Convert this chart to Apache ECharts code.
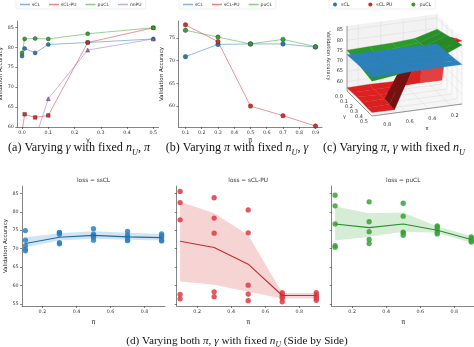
<!DOCTYPE html>
<html><head><meta charset="utf-8">
<script src="https://cdn.jsdelivr.net/npm/echarts@6/dist/echarts.min.js"></script>
<style>html,body{margin:0;padding:0;background:#fff}#c{width:474px;height:347px}</style>
</head><body><div id="c"></div>
<script>
// ---------------- data ----------------
// (a) varying gamma
const GAMMA_A = [0.0, 0.01, 0.05, 0.1, 0.25, 0.5];
const A_SCL   = [77.8, 79.7, 78.6, 80.7, 81.2, 82.1];
const A_SCLPU = [58.8, 63.2, 62.4, 62.9, 81.2, 84.9];
const A_PUCL  = [78.6, 82.1, 82.2, 82.1, 83.4, 84.9];
const A_NNPU  = [55.0, 56.0, 57.0, 67.1, 79.3, 82.1];
const A_XTICKS = [0.0, 0.1, 0.2, 0.3, 0.4, 0.5];
const A_YTICKS = [60, 65, 70, 75, 80, 85];
// (b) varying pi
const PI_B = [0.1, 0.3, 0.5, 0.7, 0.9];
const B_SCL   = [70.9, 73.6, 73.7, 73.7, 73.0];
const B_SCLPU = [77.9, 74.2, 60.0, 57.9, 55.6];
const B_PUCL  = [76.7, 75.2, 73.7, 74.7, 73.1];
const B_XTICKS = [0.1, 0.2, 0.3, 0.4, 0.5, 0.6, 0.7, 0.8, 0.9];
const B_YTICKS = [60, 65, 70, 75];
// (c) surfaces: rows = pi, cols = gamma
const PI3 = [0.1, 0.3, 0.5, 0.7, 0.9];
const GAMMA3 = [0.0, 0.1, 0.2, 0.3, 0.4, 0.5];
const Z3_SCL = [
  [72.5, 72.8, 73.2, 73.6, 74.0, 74.6],
  [72.6, 72.9, 73.3, 73.7, 74.1, 74.5],
  [72.7, 73.0, 73.4, 73.7, 74.0, 74.4],
  [72.8, 73.1, 73.4, 73.8, 74.1, 74.3],
  [73.0, 73.2, 73.5, 73.8, 74.0, 74.2]
];
const Z3_SCLPU = [
  [57.0, 57.3, 78.5, 82.8, 84.6, 86.0],
  [57.1, 57.4, 76.0, 79.5, 81.5, 83.8],
  [57.0, 57.2, 57.5, 76.5, 78.5, 80.5],
  [57.2, 57.1, 57.0, 57.3, 57.2, 57.0],
  [57.0, 57.1, 57.3, 57.2, 57.0, 57.1]
];
const Z3_PUCL = [
  [79.5, 80.5, 81.5, 82.5, 83.2, 84.0],
  [76.5, 77.0, 77.6, 78.2, 78.8, 79.4],
  [75.8, 75.8, 75.7, 75.6, 75.5, 75.4],
  [75.5, 75.2, 74.8, 74.4, 74.0, 73.6],
  [75.2, 74.7, 74.1, 73.5, 72.9, 72.3]
];
const Z3_TICKS = [60, 65, 70, 75, 80, 85];
const G3_TICKS = [0.0, 0.1, 0.2, 0.3, 0.4, 0.5];
const P3_TICKS = [0.2, 0.4, 0.6, 0.8];
// (d) side by side
const PI_D = [0.1, 0.3, 0.5, 0.7, 0.9];
const D_SCL_PTS = [[74.9,72.3,70.8,69.9,69.4],[74.4,74.3,73.9,71.6,71.3],[75.4,73.9,73.5,73.1,72.3],[74.7,73.7,73.1,72.3,72.2],[74.0,73.5,73.1,72.3,72.1]];
const D_SCL_MEAN = [71.4, 73.1, 73.6, 73.2, 73.0];
const D_SCL_LO = [70.4, 72.2, 72.7, 72.4, 72.2];
const D_SCL_HI = [73.1, 74.2, 74.7, 74.3, 74.0];
const D_SCLPU_PTS = [[85.5,82.5,77.8,57.6,56.4],[83.8,78.3,74.2,58.3,57.0],[80.5,74.3,60.1,57.7,55.9],[58.1,57.5,57.0,56.5,55.6],[58.1,57.5,57.0,56.5,56.0]];
const D_SCLPU_MEAN = [72.0, 70.3, 65.8, 57.3, 57.3];
const D_SCLPU_LO = [61.1, 60.2, 58.3, 56.5, 56.5];
const D_SCLPU_HI = [82.7, 79.6, 73.7, 58.0, 58.0];
const D_PUCL_PTS = [[84.5,81.6,76.7,70.8,70.4],[82.7,77.3,74.6,72.5,71.4],[82.3,78.8,74.5,74.3,73.6],[76.2,75.9,75.2,74.4,74.0],[73.2,72.8,72.4,72.1,71.8]];
const D_PUCL_MEAN = [76.7, 75.7, 76.7, 75.0, 72.5];
const D_PUCL_LO = [72.2, 73.2, 74.6, 74.3, 71.6];
const D_PUCL_HI = [81.4, 79.6, 79.8, 76.0, 73.4];
const D_XTICKS = [0.2, 0.4, 0.6, 0.8];
const D_YTICKS = [55, 60, 65, 70, 75, 80, 85];
const D_TITLES = ['loss = ssCL', 'loss = sCL-PU', 'loss = puCL'];

// ---------------- styling ----------------
const FONT = 'DejaVu Sans';
const AXC = '#333';
const C_BLUE = '#1f77b4', C_RED = '#d62728', C_GREEN = '#2ca02c', C_PURPLE = '#9467bd';

function xAxisDef(gi, min, max, ticks, name, gap, showLabels) {
  return {
    type: 'value', gridIndex: gi, min, max,
    name: name || '', nameLocation: 'middle', nameGap: gap || 9,
    nameTextStyle: {fontSize: 6.5, color: '#222', fontFamily: FONT},
    axisLine: {show: true, onZero: false, lineStyle: {color: AXC, width: 0.6}},
    axisTick: {show: true, length: 2, customValues: ticks, lineStyle: {color: AXC, width: 0.6}},
    axisLabel: {show: showLabels !== false, customValues: ticks, fontSize: 4.8, color: '#333', margin: 3.5, fontFamily: FONT, formatter: v => v.toFixed(1)},
    splitLine: {show: false}
  };
}
function yAxisDef(gi, min, max, ticks, name, gap, showLabels) {
  return {
    type: 'value', gridIndex: gi, min, max,
    name: name || '', nameLocation: 'middle', nameGap: gap || 10,
    nameTextStyle: {fontSize: 5.5, color: '#222', fontFamily: FONT},
    axisLine: {show: true, onZero: false, lineStyle: {color: AXC, width: 0.6}},
    axisTick: {show: true, length: 2, customValues: ticks, lineStyle: {color: AXC, width: 0.6}},
    axisLabel: {show: showLabels !== false, customValues: ticks, fontSize: 4.8, color: '#333', margin: 3.5, fontFamily: FONT, formatter: v => String(Math.round(v))},
    splitLine: {show: false}
  };
}
function lineSeries(name, gi, xs, ys, color, symbol, size) {
  return {
    type: 'line', name, xAxisIndex: gi, yAxisIndex: gi,
    data: xs.map((x, i) => [x, ys[i]]),
    symbol, symbolSize: size, showSymbol: true, clip: true, z: 3,
    lineStyle: {color, width: 0.9, opacity: 0.55},
    itemStyle: {color, borderColor: '#222', borderWidth: 0.4, opacity: 0.95},
    emphasis: {disabled: true}
  };
}

// ---------------- 3D projection helpers (panel c) ----------------
const BOX3 = {ox: 27, oy: 91, piDx: 90, piDy: -12, gDx: 25, gDy: 25, zH: 65,
              piMin: 0.1, piMax: 0.9, gMin: 0, gMax: 0.5, zMin: 55.4, zMax: 86.9};
function proj3(pi, g, z) {
  const q = (BOX3.piMax - pi) / (BOX3.piMax - BOX3.piMin);
  const r = (g - BOX3.gMin) / (BOX3.gMax - BOX3.gMin);
  const h = (z - BOX3.zMin) / (BOX3.zMax - BOX3.zMin);
  return [BOX3.ox + q * BOX3.piDx + r * BOX3.gDx, BOX3.oy + q * BOX3.piDy + r * BOX3.gDy - h * BOX3.zH];
}
function hexToRgb(h) { return [1,3,5].map(i => parseInt(h.substr(i, 2), 16)); }
const LIGHT = (function(){ const v = [-0.667, -0.667, 0.333]; const n = Math.hypot(...v); return v.map(x => x / n); })();
function buildQuads(Z, base) {
  const rgb = hexToRgb(base);
  const quads = [];
  const nrm = p => [(p[0] - BOX3.piMin) / (BOX3.piMax - BOX3.piMin), (p[1] - BOX3.gMin) / (BOX3.gMax - BOX3.gMin), 0.75 * (p[2] - BOX3.zMin) / (BOX3.zMax - BOX3.zMin)];
  for (let i = 0; i < PI3.length - 1; i++) for (let j = 0; j < GAMMA3.length - 1; j++) {
    const c = [[i, j], [i + 1, j], [i + 1, j + 1], [i, j + 1]].map(([a, b]) => [PI3[a], GAMMA3[b], Z[a][b]]);
    const m = c.map(nrm);
    const v1 = [m[0][0]-m[1][0], m[0][1]-m[1][1], m[0][2]-m[1][2]];
    const v2 = [m[1][0]-m[2][0], m[1][1]-m[2][1], m[1][2]-m[2][2]];
    const n = [v1[1]*v2[2]-v1[2]*v2[1], v1[2]*v2[0]-v1[0]*v2[2], v1[0]*v2[1]-v1[1]*v2[0]];
    const nl = Math.hypot(...n) || 1;
    const dot = (n[0]*LIGHT[0] + n[1]*LIGHT[1] + n[2]*LIGHT[2]) / nl;
    const f = 1 + 0.6 * (dot - LIGHT[2]);
    const col = 'rgb(' + rgb.map(x => Math.max(0, Math.min(255, Math.round(f <= 1 ? x * f : x + (255 - x) * (f - 1) * 0.6)))).join(',') + ')';
    const cp = c.reduce((s, p) => [s[0] + p[0] / 4, s[1] + p[1] / 4, s[2] + p[2] / 4], [0, 0, 0]);
    const fl = proj3(cp[0], cp[1], BOX3.zMin)[1];
    const hp = (cp[2] - BOX3.zMin) / (BOX3.zMax - BOX3.zMin) * BOX3.zH;
    quads.push({c, col, depth: fl * 2.75 + hp * 0.36});
  }
  quads.sort((a, b) => a.depth - b.depth);
  return quads;
}
function surfaceSeries(name, Z, base) {
  const quads = buildQuads(Z, base);
  return {
    type: 'custom', name, coordinateSystem: 'cartesian2d', xAxisIndex: 2, yAxisIndex: 2,
    data: quads.map((q, k) => [k, 0]), silent: true, z: 4,
    itemStyle: {color: base},
    renderItem(params, api) {
      const q = quads[params.dataIndex];
      const pts = q.c.map(p => api.coord(proj3(p[0], p[1], p[2])));
      return {type: 'polygon', shape: {points: pts}, style: {fill: q.col, stroke: q.col, lineWidth: 0.3}};
    }
  };
}
const boxSeries = {
  type: 'custom', coordinateSystem: 'cartesian2d', xAxisIndex: 2, yAxisIndex: 2,
  data: [[0, 0]], silent: true, z: 2,
  renderItem(params, api) {
    const P = (pi, g, z) => api.coord(proj3(pi, g, z));
    const B = BOX3, ch = [];
    const poly = (pts, fill) => ch.push({type: 'polygon', shape: {points: pts}, style: {fill, stroke: 'none'}});
    const line = (a, b, col, w) => ch.push({type: 'line', shape: {x1: a[0], y1: a[1], x2: b[0], y2: b[1]}, style: {stroke: col, lineWidth: w}});
    const txt = (p, dx, dy, s, align, extra) => ch.push(Object.assign({type: 'text', x: p[0] + dx, y: p[1] + dy,
      style: {text: s, fontSize: 5, fontFamily: FONT, fill: '#333', align: align || 'center', verticalAlign: 'middle'}}, extra || {}));
    poly([P(B.piMax,B.gMin,B.zMin), P(B.piMax,B.gMax,B.zMin), P(B.piMin,B.gMax,B.zMin), P(B.piMin,B.gMin,B.zMin)], '#f5f5f5');
    poly([P(B.piMax,B.gMin,B.zMin), P(B.piMin,B.gMin,B.zMin), P(B.piMin,B.gMin,B.zMax), P(B.piMax,B.gMin,B.zMax)], '#f2f2f2');
    poly([P(B.piMin,B.gMin,B.zMin), P(B.piMin,B.gMax,B.zMin), P(B.piMin,B.gMax,B.zMax), P(B.piMin,B.gMin,B.zMax)], '#f9f9f9');
    const GC = '#dadada';
    P3_TICKS.forEach(t => { line(P(t,B.gMin,B.zMin), P(t,B.gMax,B.zMin), GC, 0.5); line(P(t,B.gMin,B.zMin), P(t,B.gMin,B.zMax), GC, 0.5); });
    G3_TICKS.forEach(t => { line(P(B.piMax,t,B.zMin), P(B.piMin,t,B.zMin), GC, 0.5); line(P(B.piMin,t,B.zMin), P(B.piMin,t,B.zMax), GC, 0.5); });
    Z3_TICKS.forEach(t => { line(P(B.piMax,B.gMin,t), P(B.piMin,B.gMin,t), GC, 0.5); line(P(B.piMin,B.gMin,t), P(B.piMin,B.gMax,t), GC, 0.5); });
    line(P(B.piMax,B.gMin,B.zMin), P(B.piMax,B.gMin,B.zMax), '#555', 0.6);
    line(P(B.piMax,B.gMin,B.zMin), P(B.piMax,B.gMax,B.zMin), '#555', 0.6);
    line(P(B.piMax,B.gMax,B.zMin), P(B.piMin,B.gMax,B.zMin), '#555', 0.6);
    Z3_TICKS.forEach(t => txt(P(B.piMax,B.gMin,t), -4, 0, String(t), 'right'));
    G3_TICKS.forEach(t => txt(P(B.piMax,t,B.zMin), -8, 6, t.toFixed(1)));
    P3_TICKS.forEach(t => txt(P(t,B.gMax,B.zMin), 4, 10, t.toFixed(1)));
    txt(P(B.piMax,(B.gMin+B.gMax)/2,B.zMin), -15, 13, 'γ');
    txt(P((B.piMin+B.piMax)/2,B.gMax,B.zMin), 10, 19, 'π');
    txt(P(B.piMax,B.gMin,71), -19, -3, 'Validation Accuracy', 'center', {rotation: -Math.PI / 2});
    return {type: 'group', children: ch};
  }
};

// ---------------- (d) helpers ----------------
function bandSeries(gi, lo, hi, color) {
  return {
    type: 'custom', coordinateSystem: 'cartesian2d', xAxisIndex: gi, yAxisIndex: gi, silent: true, z: 1,
    data: PI_D.map((p, i) => [p, lo[i], hi[i]]),
    renderItem(params, api) {
      if (params.dataIndex !== 0) return null;
      const up = PI_D.map((p, i) => api.coord([p, hi[i]]));
      const dn = PI_D.map((p, i) => api.coord([p, lo[i]])).reverse();
      return {type: 'polygon', shape: {points: up.concat(dn)}, style: {fill: color, opacity: 0.2}};
    }
  };
}
function pointsSeries(gi, pts, color) {
  const data = [];
  PI_D.forEach((p, i) => pts[i].forEach(v => data.push([p, v])));
  return {type: 'scatter', xAxisIndex: gi, yAxisIndex: gi, data, symbolSize: 5.3, z: 3,
          itemStyle: {color, opacity: 0.85}, silent: true};
}
function meanSeries(gi, mean, color) {
  return {type: 'line', xAxisIndex: gi, yAxisIndex: gi, data: PI_D.map((p, i) => [p, mean[i]]),
          symbol: 'none', z: 4, lineStyle: {color, width: 1.1}, silent: true};
}

// ---------------- layout ----------------
const D_LEFTS = [22, 176.7, 331.7];
const grids = [
  {left: 17.3, top: 21, width: 141.3, height: 106},
  {left: 178.5, top: 21, width: 143.5, height: 106},
  {left: 320, top: 0, width: 154, height: 140},
  ...D_LEFTS.map(l => ({left: l, top: 186, width: 143, height: 120}))
].map(g => Object.assign(g, {containLabel: false, outerBoundsMode: 'none'}));

const xAxes = [
  xAxisDef(0, -0.018, 0.52, A_XTICKS, 'γ', 8),
  xAxisDef(1, 0.057, 0.94, B_XTICKS, 'π', 8),
  {type: 'value', gridIndex: 2, min: 0, max: 154, show: false},
  ...D_LEFTS.map((l, k) => xAxisDef(3 + k, 0.08, 0.92, D_XTICKS, 'π', 13))
];
const yAxes = [
  yAxisDef(0, 60, 86.6, A_YTICKS, 'Validation Accuracy', 10.5),
  yAxisDef(1, 55.4, 78.75, B_YTICKS, 'Validation Accuracy', 9.5),
  {type: 'value', gridIndex: 2, min: 0, max: 140, inverse: true, show: false},
  ...D_LEFTS.map((l, k) => yAxisDef(3 + k, 54.46, 86.98, D_YTICKS, k === 0 ? 'Validation Accuracy' : '', 12, k === 0))
];

const series = [
  lineSeries('sCL', 0, GAMMA_A, A_SCL, C_BLUE, 'circle', 4),
  lineSeries('sCL-PU', 0, GAMMA_A, A_SCLPU, C_RED, 'rect', 3.6),
  lineSeries('puCL', 0, GAMMA_A, A_PUCL, C_GREEN, 'circle', 4),
  lineSeries('nnPU', 0, GAMMA_A, A_NNPU, C_PURPLE, 'triangle', 4),
  lineSeries('sCL', 1, PI_B, B_SCL, C_BLUE, 'circle', 4.5),
  lineSeries('sCL-PU', 1, PI_B, B_SCLPU, C_RED, 'circle', 4.5),
  lineSeries('puCL', 1, PI_B, B_PUCL, C_GREEN, 'circle', 4.5),
  boxSeries,
  surfaceSeries('sCL PU', Z3_SCLPU, '#dc2020'),
  surfaceSeries('puCL', Z3_PUCL, '#2ca02c'),
  surfaceSeries('sCL', Z3_SCL, '#2a7fba'),
  bandSeries(3, D_SCL_LO, D_SCL_HI, C_BLUE),
  pointsSeries(3, D_SCL_PTS, '#2f7fc0'),
  meanSeries(3, D_SCL_MEAN, '#1f6aa8'),
  bandSeries(4, D_SCLPU_LO, D_SCLPU_HI, C_RED),
  pointsSeries(4, D_SCLPU_PTS, '#dc3b44'),
  meanSeries(4, D_SCLPU_MEAN, '#c42a2f'),
  bandSeries(5, D_PUCL_LO, D_PUCL_HI, C_GREEN),
  pointsSeries(5, D_PUCL_PTS, '#36a336'),
  meanSeries(5, D_PUCL_MEAN, '#2a8f2a')
];

const legText = {fontSize: 4.5, color: '#333', fontFamily: FONT, padding: [0, 0, 0, -3]};
const li = (name, icon, color) => ({name, icon, itemStyle: {color, borderWidth: 0, borderColor: 'transparent', opacity: 1}, lineStyle: {width: 0}});
const legBase = {top: -2, padding: [4, 4, 2, 4], selectedMode: false, borderColor: '#e4e4e4', borderWidth: 0.6, borderRadius: 2,
                 textStyle: legText, itemStyle: {borderWidth: 0}};
const legends = [
  Object.assign({}, legBase, {left: 16, itemGap: 9, itemWidth: 10, itemHeight: 1.5,
   data: [li('sCL', 'rect', 'rgba(31,119,180,0.55)'), li('sCL-PU', 'rect', 'rgba(214,39,40,0.55)'),
          li('puCL', 'rect', 'rgba(44,160,44,0.55)'), li('nnPU', 'rect', 'rgba(148,103,189,0.55)')]}),
  Object.assign({}, legBase, {left: 179, itemGap: 9, itemWidth: 10, itemHeight: 1.5,
   data: [li('sCL', 'rect', 'rgba(31,119,180,0.55)'), li('sCL-PU', 'rect', 'rgba(214,39,40,0.55)'),
          li('puCL', 'rect', 'rgba(44,160,44,0.55)')]}),
  Object.assign({}, legBase, {left: 329, itemGap: 19, itemWidth: 4, itemHeight: 4,
   textStyle: Object.assign({}, legText, {fontSize: 4.7, padding: [0, 0, 0, -1]}),
   data: [li('sCL', 'circle', C_BLUE), li('sCL PU', 'circle', C_RED), li('puCL', 'circle', C_GREEN)]})
];

function caption(cx, cy, fs, parts) {
  return {type: 'text', x: cx, y: cy, style: {
    text: parts, align: 'center', verticalAlign: 'middle',
    rich: {
      t: {fontFamily: 'Liberation Serif', fontSize: fs, lineHeight: fs * 1.5, fill: '#111'},
      i: {fontFamily: 'Liberation Serif', fontSize: fs, fontStyle: 'italic', lineHeight: fs * 1.5, fill: '#111'},
      s: {fontFamily: 'Liberation Serif', fontSize: fs * 0.68, fontStyle: 'italic', lineHeight: fs * 0.75, verticalAlign: 'bottom', fill: '#111'}
    }}};
}
const graphic = [
  caption(79, 148, 12.1, '{t|(a) Varying }{i|γ}{t| with fixed }{i|n}{s|U}{t|, }{i|π}'),
  caption(237, 148, 12.1, '{t|(b) Varying }{i|π}{t| with fixed }{i|n}{s|U}{t|, }{i|γ}'),
  caption(394, 148, 12.1, '{t|(c) Varying }{i|π}{t|, }{i|γ}{t| with fixed }{i|n}{s|U}'),
  caption(237, 341, 11.2, '{t|(d) Varying both }{i|π}{t|, }{i|γ}{t| with fixed }{i|n}{s|U}{t| (Side by Side)}'),
  ...D_LEFTS.map((l, k) => ({type: 'text', x: l + 71.5, y: 180, style: {text: D_TITLES[k], fontSize: 5.8, fontFamily: FONT, fill: '#333', align: 'center', verticalAlign: 'middle'}}))
];

const chart = echarts.init(document.getElementById('c'), null, {renderer: 'canvas', width: 474, height: 347});
chart.setOption({
  animation: false, backgroundColor: '#fff',
  grid: grids, xAxis: xAxes, yAxis: yAxes, legend: legends, series, graphic
});
</script></body></html>
